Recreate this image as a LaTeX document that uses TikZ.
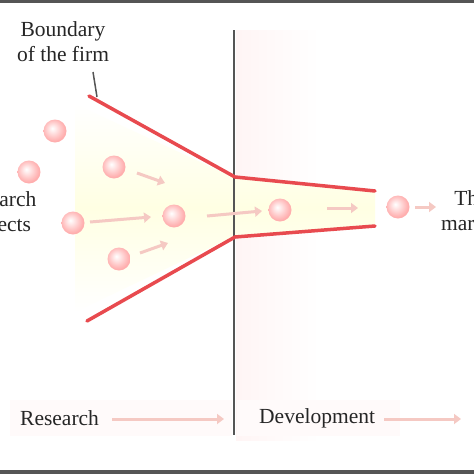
\documentclass[tikz,border=0pt]{standalone}
\usepackage{fontspec}
\setmainfont{Liberation Serif}
\usetikzlibrary{arrows.meta,shadings}
\definecolor{redl}{HTML}{E84A4F}
\definecolor{arr}{HTML}{F5C9C3}
\definecolor{txt}{HTML}{262626}
\definecolor{gr}{HTML}{555555}
\pgfdeclareradialshading{pball}{\pgfpoint{-6bp}{6bp}}{color(0bp)=(white); color(8bp)=(red!10); color(17bp)=(red!22); color(25bp)=(red!32); color(50bp)=(red!32)}
\begin{document}
\begin{tikzpicture}[x=1pt,y=-1pt,
  ball/.style={circle,minimum size=23pt,inner sep=0pt,shading=pball},
  flow/.style={arr,line width=3pt,-{Triangle[length=7pt,width=10pt]}},
  lbl/.style={font=\fontsize{21.5}{25}\selectfont,text=txt,align=center,inner sep=0pt},
  edge/.style={redl,line width=3.5pt,line cap=round,line join=round}]
\useasboundingbox (0,0) rectangle (474,474);
\clip (0,0) rectangle (474,474);
\fill[white] (0,0) rectangle (474,474);
% faint backgrounds
\shade[left color=red!4,right color=white] (236,30) rectangle (320,440);
\fill[red!2] (10,400) rectangle (232,436);
\fill[red!2] (237,400) rectangle (400,436);
% glow in the funnel
\shade[top color=white,bottom color=white,middle color=yellow!11]
  (75,104) -- (235,178) -- (375,191) -- (375,226) -- (235,236) -- (75,312) -- cycle;
% top and bottom bands
\fill[gr] (0,0) rectangle (474,3);
\fill[gr] (0,470) rectangle (474,474);
% divider
\coordinate (vt) at (234,30);
\coordinate (vb) at (234,435);
\draw[gr,line width=2pt] (vt) -- (vb);
% funnel edges
\coordinate (u1) at (89,96); \coordinate (u2) at (235,177); \coordinate (u3) at (375,191);
\coordinate (l1) at (87,321); \coordinate (l2) at (235,237); \coordinate (l3) at (375,226);
\draw[edge] (u1) -- (u2) -- (u3);
\draw[edge] (l1) -- (l2) -- (l3);
% labels
\node[lbl] (bnd) at (63,42) {Boundary\\of the firm};
\coordinate (p1) at (93,72); \coordinate (p2) at (97,97);
\draw[gr,line width=1.5pt] (p1) -- (p2);
\node[lbl] (rp) at (-3,214) {Research\\projects};
\node[lbl] (mk) at (471,211) {The\\market};
\node[lbl,anchor=west] (rs) at (20,418) {Research};
\node[lbl,anchor=west] (dv) at (259,418) {Development};
% balls
\node[ball] (c1) at (55,131) {};
\node[ball] (c2) at (29,172) {};
\node[ball] (c3) at (114,167) {};
\node[ball] (c4) at (73,223) {};
\node[ball] (c5) at (174,216) {};
\node[ball] (c6) at (119,259) {};
\node[ball] (c7) at (280,210) {};
\node[ball] (c8) at (398,207) {};
% flow arrows
\coordinate (a1s) at (137,173); \coordinate (a1e) at (165,183);
\coordinate (a2s) at (90,222); \coordinate (a2e) at (151,217);
\coordinate (a3s) at (207,216); \coordinate (a3e) at (262,211);
\coordinate (a4s) at (327,208); \coordinate (a4e) at (358,208);
\coordinate (a5s) at (415,207); \coordinate (a5e) at (436,207);
\coordinate (a6s) at (140,253); \coordinate (a6e) at (168,243);
\coordinate (r1) at (112,419); \coordinate (r2) at (224,419);
\coordinate (d1) at (384,419); \coordinate (d2) at (461,419);
\foreach \s/\e in {a1s/a1e,a2s/a2e,a3s/a3e,a4s/a4e,a5s/a5e,a6s/a6e,r1/r2,d1/d2}
  \draw[flow] (\s) -- (\e);
\end{tikzpicture}
\end{document}
